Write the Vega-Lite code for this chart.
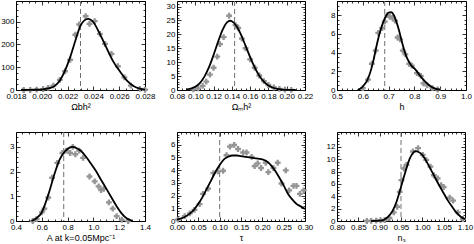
{
"$schema": "https://vega.github.io/schema/vega-lite/v6.json",
"background": "white",
"padding": 0,
"bounds": "flush",
"columns": 3,
"spacing": {"row": 42, "column": 32},
"config": {
  "view": {"stroke": "black", "strokeWidth": 1},
  "font": "Liberation Sans",
  "point": {"shape": "cross", "filled": true, "color": "#959595", "size": 34, "opacity": 1},
  "axis": {"labelFont": "Liberation Sans", "labelFontSize": 8, "labelColor": "black", "titleFont": "Liberation Sans", "titleFontSize": 9, "titleFontWeight": "normal", "titleColor": "black", "domain": false, "grid": false, "tickColor": "black", "tickWidth": 0.8, "labelFlush": false, "labelOverlap": false, "labelBound": false, "titlePadding": 2}
},
"concat": [
{
 "width": 129, "height": 89,
 "data": {"values": [
  {"t":"r","x":0.023},
  {"t":"c","x":0.0184,"y":0},{"t":"c","x":0.0190,"y":0.4},{"t":"c","x":0.0195,"y":1},{"t":"c","x":0.0201,"y":3},{"t":"c","x":0.0206,"y":8},{"t":"c","x":0.0210,"y":18},{"t":"c","x":0.0214,"y":42},{"t":"c","x":0.0218,"y":85},{"t":"c","x":0.0222,"y":144},{"t":"c","x":0.0226,"y":216},{"t":"c","x":0.0230,"y":282},{"t":"c","x":0.0233,"y":305},{"t":"c","x":0.0236,"y":312},{"t":"c","x":0.0240,"y":297},{"t":"c","x":0.0245,"y":246},{"t":"c","x":0.0250,"y":187},{"t":"c","x":0.0255,"y":129},{"t":"c","x":0.0261,"y":78},{"t":"c","x":0.0266,"y":41},{"t":"c","x":0.0271,"y":18},{"t":"c","x":0.0276,"y":6},{"t":"c","x":0.0280,"y":2},
  {"t":"p","x":0.0186,"y":0},{"t":"p","x":0.0191,"y":0},{"t":"p","x":0.0196,"y":1.5},{"t":"p","x":0.0201,"y":4},{"t":"p","x":0.0205,"y":9},{"t":"p","x":0.0209,"y":19},{"t":"p","x":0.0214,"y":44},{"t":"p","x":0.0218,"y":82},{"t":"p","x":0.0222,"y":132},{"t":"p","x":0.0226,"y":242},{"t":"p","x":0.0229,"y":287},{"t":"p","x":0.0234,"y":323},{"t":"p","x":0.0237,"y":290},{"t":"p","x":0.0241,"y":302},{"t":"p","x":0.0245,"y":246},{"t":"p","x":0.0249,"y":202},{"t":"p","x":0.0254,"y":158},{"t":"p","x":0.0259,"y":104},{"t":"p","x":0.0264,"y":55},{"t":"p","x":0.0269,"y":19},{"t":"p","x":0.0276,"y":5},{"t":"p","x":0.0280,"y":1}
 ]},
 "resolve": {"axis": {"x": "independent", "y": "independent"}},
 "layer": [
  {"transform": [{"filter": "datum.t == 'r'"}],
   "mark": {"type": "rule", "color": "#707070", "strokeDash": [5, 3], "strokeWidth": 1},
   "encoding": {"x": {"field": "x", "type": "quantitative", "scale": {"domain": [0.018, 0.028], "nice": false, "zero": false},
     "axis": {"orient": "top", "values": [0.018,0.02,0.022,0.024,0.026,0.028], "labels": false, "tickSize": -4, "title": null}}}},
  {"transform": [{"filter": "datum.t == 'p'"}],
   "mark": {"type": "point"},
   "encoding": {
     "x": {"field": "x", "type": "quantitative", "scale": {"domain": [0.018, 0.028], "nice": false, "zero": false}, "axis": {"orient": "bottom", "values": [0.0185,0.019,0.0195,0.0205,0.021,0.0215,0.0225,0.023,0.0235,0.0245,0.025,0.0255,0.0265,0.027,0.0275], "labels": false, "tickSize": -2, "title": null}},
     "y": {"field": "y", "type": "quantitative", "scale": {"domain": [0, 390], "nice": false, "zero": false}, "axis": {"orient": "right", "values": [0,100,200,300], "labels": false, "tickSize": -4, "title": null}}}},
  {"transform": [{"filter": "datum.t == 'c'"}],
   "mark": {"type": "line", "color": "black", "strokeWidth": 1.8, "interpolate": "monotone"},
   "encoding": {
     "x": {"field": "x", "type": "quantitative", "scale": {"domain": [0.018, 0.028], "nice": false, "zero": false}, "axis": {"orient": "bottom", "values": [0.018,0.02,0.022,0.024,0.026,0.028], "format": ".3f", "tickSize": -4, "labelPadding": 6, "title": "Ωbh²"}},
     "y": {"field": "y", "type": "quantitative", "scale": {"domain": [0, 390], "nice": false, "zero": false}, "axis": {"orient": "left", "values": [0,100,200,300], "format": "d", "tickSize": -4, "labelPadding": 6, "title": null}}}},
  {"transform": [{"filter": "datum.t == 'c'"}],
   "mark": {"type": "line", "strokeOpacity": 0},
   "encoding": {
     "x": {"field": "x", "type": "quantitative", "scale": {"domain": [0.018, 0.028], "nice": false, "zero": false}, "axis": {"orient": "top", "values": [0.0185,0.019,0.0195,0.0205,0.021,0.0215,0.0225,0.023,0.0235,0.0245,0.025,0.0255,0.0265,0.027,0.0275], "labels": false, "tickSize": -2, "title": null}},
     "y": {"field": "y", "type": "quantitative", "scale": {"domain": [0, 390], "nice": false, "zero": false}, "axis": {"orient": "left", "values": [25,50,75,125,150,175,225,250,275,325,350,375], "labels": false, "tickSize": -2, "title": null}}}},
  {"transform": [{"filter": "datum.t == 'c'"}],
   "mark": {"type": "line", "strokeOpacity": 0},
   "encoding": {
     "x": {"field": "x", "type": "quantitative", "scale": {"domain": [0.018, 0.028], "nice": false, "zero": false}, "axis": null},
     "y": {"field": "y", "type": "quantitative", "scale": {"domain": [0, 390], "nice": false, "zero": false}, "axis": {"orient": "right", "values": [25,50,75,125,150,175,225,250,275,325,350,375], "labels": false, "tickSize": -2, "title": null}}}}
 ]
},
{
 "width": 128, "height": 89,
 "data": {"values": [
  {"t":"r","x":0.143},
  {"t":"c","x":0.090,"y":0.2},{"t":"c","x":0.095,"y":0.5},{"t":"c","x":0.100,"y":1.2},{"t":"c","x":0.105,"y":2.5},{"t":"c","x":0.110,"y":4.8},{"t":"c","x":0.115,"y":8.2},{"t":"c","x":0.120,"y":12.6},{"t":"c","x":0.125,"y":17.4},{"t":"c","x":0.130,"y":21.7},{"t":"c","x":0.135,"y":24.4},{"t":"c","x":0.138,"y":24.9},{"t":"c","x":0.140,"y":24.7},{"t":"c","x":0.145,"y":23.0},{"t":"c","x":0.150,"y":19.9},{"t":"c","x":0.155,"y":15.9},{"t":"c","x":0.160,"y":11.8},{"t":"c","x":0.165,"y":8.1},{"t":"c","x":0.170,"y":5.1},{"t":"c","x":0.175,"y":3.0},{"t":"c","x":0.180,"y":1.6},{"t":"c","x":0.185,"y":0.8},{"t":"c","x":0.190,"y":0.4},{"t":"c","x":0.195,"y":0.16},{"t":"c","x":0.200,"y":0.05},{"t":"c","x":0.210,"y":0},
  {"t":"p","x":0.098,"y":0.2},{"t":"p","x":0.103,"y":0.6},{"t":"p","x":0.108,"y":1.5},{"t":"p","x":0.112,"y":3},{"t":"p","x":0.116,"y":5.5},{"t":"p","x":0.120,"y":8},{"t":"p","x":0.124,"y":12},{"t":"p","x":0.127,"y":16.5},{"t":"p","x":0.131,"y":19},{"t":"p","x":0.137,"y":26.7},{"t":"p","x":0.144,"y":23.3},{"t":"p","x":0.147,"y":22.3},{"t":"p","x":0.151,"y":18.5},{"t":"p","x":0.155,"y":15},{"t":"p","x":0.160,"y":11},{"t":"p","x":0.165,"y":8},{"t":"p","x":0.170,"y":5.2},{"t":"p","x":0.175,"y":3.2},{"t":"p","x":0.180,"y":1.8},{"t":"p","x":0.186,"y":0.9},{"t":"p","x":0.192,"y":0.4},{"t":"p","x":0.198,"y":0.15},{"t":"p","x":0.205,"y":0.05}
 ]},
 "resolve": {"axis": {"x": "independent", "y": "independent"}},
 "layer": [
  {"transform": [{"filter": "datum.t == 'r'"}],
   "mark": {"type": "rule", "color": "#707070", "strokeDash": [5, 3], "strokeWidth": 1},
   "encoding": {"x": {"field": "x", "type": "quantitative", "scale": {"domain": [0.08, 0.22], "nice": false, "zero": false},
     "axis": {"orient": "top", "values": [0.08,0.1,0.12,0.14,0.16,0.18,0.2,0.22], "labels": false, "tickSize": -4, "title": null}}}},
  {"transform": [{"filter": "datum.t == 'p'"}],
   "mark": {"type": "point"},
   "encoding": {
     "x": {"field": "x", "type": "quantitative", "scale": {"domain": [0.08, 0.22], "nice": false, "zero": false}, "axis": {"orient": "bottom", "values": [0.085,0.09,0.095,0.105,0.11,0.115,0.125,0.13,0.135,0.145,0.15,0.155,0.165,0.17,0.175,0.185,0.19,0.195,0.205,0.21,0.215], "labels": false, "tickSize": -2, "title": null}},
     "y": {"field": "y", "type": "quantitative", "scale": {"domain": [0, 32], "nice": false, "zero": false}, "axis": {"orient": "right", "values": [0,5,10,15,20,25,30], "labels": false, "tickSize": -4, "title": null}}}},
  {"transform": [{"filter": "datum.t == 'c'"}],
   "mark": {"type": "line", "color": "black", "strokeWidth": 1.8, "interpolate": "monotone"},
   "encoding": {
     "x": {"field": "x", "type": "quantitative", "scale": {"domain": [0.08, 0.22], "nice": false, "zero": false}, "axis": {"orient": "bottom", "values": [0.08,0.1,0.12,0.14,0.16,0.18,0.2,0.22], "format": ".2f", "tickSize": -4, "labelPadding": 6, "title": "Ωₘh²"}},
     "y": {"field": "y", "type": "quantitative", "scale": {"domain": [0, 32], "nice": false, "zero": false}, "axis": {"orient": "left", "values": [0,5,10,15,20,25,30], "format": "d", "tickSize": -4, "labelPadding": 6, "title": null}}}},
  {"transform": [{"filter": "datum.t == 'c'"}],
   "mark": {"type": "line", "strokeOpacity": 0},
   "encoding": {
     "x": {"field": "x", "type": "quantitative", "scale": {"domain": [0.08, 0.22], "nice": false, "zero": false}, "axis": {"orient": "top", "values": [0.085,0.09,0.095,0.105,0.11,0.115,0.125,0.13,0.135,0.145,0.15,0.155,0.165,0.17,0.175,0.185,0.19,0.195,0.205,0.21,0.215], "labels": false, "tickSize": -2, "title": null}},
     "y": {"field": "y", "type": "quantitative", "scale": {"domain": [0, 32], "nice": false, "zero": false}, "axis": {"orient": "left", "values": [1,2,3,4,6,7,8,9,11,12,13,14,16,17,18,19,21,22,23,24,26,27,28,29,31], "labels": false, "tickSize": -2, "title": null}}}},
  {"transform": [{"filter": "datum.t == 'c'"}],
   "mark": {"type": "line", "strokeOpacity": 0},
   "encoding": {
     "x": {"field": "x", "type": "quantitative", "scale": {"domain": [0.08, 0.22], "nice": false, "zero": false}, "axis": null},
     "y": {"field": "y", "type": "quantitative", "scale": {"domain": [0, 32], "nice": false, "zero": false}, "axis": {"orient": "right", "values": [1,2,3,4,6,7,8,9,11,12,13,14,16,17,18,19,21,22,23,24,26,27,28,29,31], "labels": false, "tickSize": -2, "title": null}}}}
 ]
},
{
 "width": 129, "height": 89,
 "data": {"values": [
  {"t":"r","x":0.685},
  {"t":"c","x":0.58,"y":0},{"t":"c","x":0.60,"y":0.35},{"t":"c","x":0.62,"y":1.2},{"t":"c","x":0.64,"y":3.0},{"t":"c","x":0.65,"y":4.3},{"t":"c","x":0.66,"y":5.5},{"t":"c","x":0.67,"y":6.5},{"t":"c","x":0.68,"y":7.3},{"t":"c","x":0.69,"y":7.9},{"t":"c","x":0.70,"y":8.25},{"t":"c","x":0.71,"y":8.3},{"t":"c","x":0.72,"y":8.0},{"t":"c","x":0.73,"y":7.3},{"t":"c","x":0.74,"y":6.4},{"t":"c","x":0.75,"y":5.3},{"t":"c","x":0.76,"y":4.3},{"t":"c","x":0.77,"y":3.5},{"t":"c","x":0.78,"y":2.95},{"t":"c","x":0.79,"y":2.55},{"t":"c","x":0.80,"y":2.3},{"t":"c","x":0.82,"y":1.6},{"t":"c","x":0.84,"y":0.95},{"t":"c","x":0.86,"y":0.45},{"t":"c","x":0.88,"y":0.15},{"t":"c","x":0.90,"y":0.03},
  {"t":"p","x":0.60,"y":0.2},{"t":"p","x":0.62,"y":1.1},{"t":"p","x":0.635,"y":2.8},{"t":"p","x":0.65,"y":4.2},{"t":"p","x":0.66,"y":6.1},{"t":"p","x":0.675,"y":6.6},{"t":"p","x":0.685,"y":7.3},{"t":"p","x":0.695,"y":8.0},{"t":"p","x":0.705,"y":7.8},{"t":"p","x":0.715,"y":7.7},{"t":"p","x":0.725,"y":7.4},{"t":"p","x":0.735,"y":5.6},{"t":"p","x":0.745,"y":5.4},{"t":"p","x":0.755,"y":4.2},{"t":"p","x":0.765,"y":3.8},{"t":"p","x":0.78,"y":2.8},{"t":"p","x":0.79,"y":2.6},{"t":"p","x":0.81,"y":1.8},{"t":"p","x":0.825,"y":1.5},{"t":"p","x":0.835,"y":0.7},{"t":"p","x":0.85,"y":0.5},{"t":"p","x":0.87,"y":0.2},{"t":"p","x":0.89,"y":0.05}
 ]},
 "resolve": {"axis": {"x": "independent", "y": "independent"}},
 "layer": [
  {"transform": [{"filter": "datum.t == 'r'"}],
   "mark": {"type": "rule", "color": "#707070", "strokeDash": [5, 3], "strokeWidth": 1},
   "encoding": {"x": {"field": "x", "type": "quantitative", "scale": {"domain": [0.5, 1.0], "nice": false, "zero": false},
     "axis": {"orient": "top", "values": [0.5,0.6,0.7,0.8,0.9,1.0], "labels": false, "tickSize": -4, "title": null}}}},
  {"transform": [{"filter": "datum.t == 'p'"}],
   "mark": {"type": "point"},
   "encoding": {
     "x": {"field": "x", "type": "quantitative", "scale": {"domain": [0.5, 1.0], "nice": false, "zero": false}, "axis": {"orient": "bottom", "values": [0.52,0.54,0.56,0.58,0.62,0.64,0.66,0.68,0.72,0.74,0.76,0.78,0.82,0.84,0.86,0.88,0.92,0.94,0.96,0.98], "labels": false, "tickSize": -2, "title": null}},
     "y": {"field": "y", "type": "quantitative", "scale": {"domain": [0, 9.5], "nice": false, "zero": false}, "axis": {"orient": "right", "values": [0,2,4,6,8], "labels": false, "tickSize": -4, "title": null}}}},
  {"transform": [{"filter": "datum.t == 'c'"}],
   "mark": {"type": "line", "color": "black", "strokeWidth": 1.8, "interpolate": "monotone"},
   "encoding": {
     "x": {"field": "x", "type": "quantitative", "scale": {"domain": [0.5, 1.0], "nice": false, "zero": false}, "axis": {"orient": "bottom", "values": [0.5,0.6,0.7,0.8,0.9,1.0], "format": ".1f", "tickSize": -4, "labelPadding": 6, "title": "h"}},
     "y": {"field": "y", "type": "quantitative", "scale": {"domain": [0, 9.5], "nice": false, "zero": false}, "axis": {"orient": "left", "values": [0,2,4,6,8], "format": "d", "tickSize": -4, "labelPadding": 6, "title": null}}}},
  {"transform": [{"filter": "datum.t == 'c'"}],
   "mark": {"type": "line", "strokeOpacity": 0},
   "encoding": {
     "x": {"field": "x", "type": "quantitative", "scale": {"domain": [0.5, 1.0], "nice": false, "zero": false}, "axis": {"orient": "top", "values": [0.52,0.54,0.56,0.58,0.62,0.64,0.66,0.68,0.72,0.74,0.76,0.78,0.82,0.84,0.86,0.88,0.92,0.94,0.96,0.98], "labels": false, "tickSize": -2, "title": null}},
     "y": {"field": "y", "type": "quantitative", "scale": {"domain": [0, 9.5], "nice": false, "zero": false}, "axis": {"orient": "left", "values": [0.5,1,1.5,2.5,3,3.5,4.5,5,5.5,6.5,7,7.5,8.5,9], "labels": false, "tickSize": -2, "title": null}}}},
  {"transform": [{"filter": "datum.t == 'c'"}],
   "mark": {"type": "line", "strokeOpacity": 0},
   "encoding": {
     "x": {"field": "x", "type": "quantitative", "scale": {"domain": [0.5, 1.0], "nice": false, "zero": false}, "axis": null},
     "y": {"field": "y", "type": "quantitative", "scale": {"domain": [0, 9.5], "nice": false, "zero": false}, "axis": {"orient": "right", "values": [0.5,1,1.5,2.5,3,3.5,4.5,5,5.5,6.5,7,7.5,8.5,9], "labels": false, "tickSize": -2, "title": null}}}}
 ]
},
{
 "width": 129, "height": 89,
 "data": {"values": [
  {"t":"r","x":0.77},
  {"t":"c","x":0.52,"y":0},{"t":"c","x":0.56,"y":0.12},{"t":"c","x":0.60,"y":0.35},{"t":"c","x":0.64,"y":0.9},{"t":"c","x":0.66,"y":1.22},{"t":"c","x":0.70,"y":1.93},{"t":"c","x":0.74,"y":2.5},{"t":"c","x":0.78,"y":2.82},{"t":"c","x":0.82,"y":2.98},{"t":"c","x":0.84,"y":3.0},{"t":"c","x":0.86,"y":2.97},{"t":"c","x":0.90,"y":2.85},{"t":"c","x":0.94,"y":2.62},{"t":"c","x":0.98,"y":2.33},{"t":"c","x":1.02,"y":2.02},{"t":"c","x":1.06,"y":1.66},{"t":"c","x":1.10,"y":1.31},{"t":"c","x":1.14,"y":0.95},{"t":"c","x":1.18,"y":0.6},{"t":"c","x":1.22,"y":0.3},{"t":"c","x":1.26,"y":0.1},{"t":"c","x":1.30,"y":0.01},
  {"t":"p","x":0.53,"y":0},{"t":"p","x":0.56,"y":0.08},{"t":"p","x":0.60,"y":0.35},{"t":"p","x":0.62,"y":0.5},{"t":"p","x":0.65,"y":0.95},{"t":"p","x":0.68,"y":1.75},{"t":"p","x":0.72,"y":2.35},{"t":"p","x":0.76,"y":2.75},{"t":"p","x":0.79,"y":2.85},{"t":"p","x":0.82,"y":2.75},{"t":"p","x":0.84,"y":3.0},{"t":"p","x":0.86,"y":2.7},{"t":"p","x":0.89,"y":2.85},{"t":"p","x":0.92,"y":2.55},{"t":"p","x":0.97,"y":1.8},{"t":"p","x":1.01,"y":1.6},{"t":"p","x":1.04,"y":1.4},{"t":"p","x":1.06,"y":1.25},{"t":"p","x":1.08,"y":1.3},{"t":"p","x":1.12,"y":0.75},{"t":"p","x":1.15,"y":0.5},{"t":"p","x":1.18,"y":0.2},{"t":"p","x":1.22,"y":0.05},{"t":"p","x":1.27,"y":0}
 ]},
 "resolve": {"axis": {"x": "independent", "y": "independent"}},
 "layer": [
  {"transform": [{"filter": "datum.t == 'r'"}],
   "mark": {"type": "rule", "color": "#707070", "strokeDash": [5, 3], "strokeWidth": 1},
   "encoding": {"x": {"field": "x", "type": "quantitative", "scale": {"domain": [0.4, 1.4], "nice": false, "zero": false},
     "axis": {"orient": "top", "values": [0.4,0.6,0.8,1.0,1.2,1.4], "labels": false, "tickSize": -4, "title": null}}}},
  {"transform": [{"filter": "datum.t == 'p'"}],
   "mark": {"type": "point"},
   "encoding": {
     "x": {"field": "x", "type": "quantitative", "scale": {"domain": [0.4, 1.4], "nice": false, "zero": false}, "axis": {"orient": "bottom", "values": [0.45,0.5,0.55,0.65,0.7,0.75,0.85,0.9,0.95,1.05,1.1,1.15,1.25,1.3,1.35], "labels": false, "tickSize": -2, "title": null}},
     "y": {"field": "y", "type": "quantitative", "scale": {"domain": [0, 3.6], "nice": false, "zero": false}, "axis": {"orient": "right", "values": [0,1,2,3], "labels": false, "tickSize": -4, "title": null}}}},
  {"transform": [{"filter": "datum.t == 'c'"}],
   "mark": {"type": "line", "color": "black", "strokeWidth": 1.8, "interpolate": "monotone"},
   "encoding": {
     "x": {"field": "x", "type": "quantitative", "scale": {"domain": [0.4, 1.4], "nice": false, "zero": false}, "axis": {"orient": "bottom", "values": [0.4,0.6,0.8,1.0,1.2,1.4], "format": ".1f", "tickSize": -4, "labelPadding": 6, "title": "A at k=0.05Mpc⁻¹"}},
     "y": {"field": "y", "type": "quantitative", "scale": {"domain": [0, 3.6], "nice": false, "zero": false}, "axis": {"orient": "left", "values": [0,1,2,3], "format": "d", "tickSize": -4, "labelPadding": 6, "title": null}}}},
  {"transform": [{"filter": "datum.t == 'c'"}],
   "mark": {"type": "line", "strokeOpacity": 0},
   "encoding": {
     "x": {"field": "x", "type": "quantitative", "scale": {"domain": [0.4, 1.4], "nice": false, "zero": false}, "axis": {"orient": "top", "values": [0.45,0.5,0.55,0.65,0.7,0.75,0.85,0.9,0.95,1.05,1.1,1.15,1.25,1.3,1.35], "labels": false, "tickSize": -2, "title": null}},
     "y": {"field": "y", "type": "quantitative", "scale": {"domain": [0, 3.6], "nice": false, "zero": false}, "axis": {"orient": "left", "values": [0.2,0.4,0.6,0.8,1.2,1.4,1.6,1.8,2.2,2.4,2.6,2.8,3.2,3.4], "labels": false, "tickSize": -2, "title": null}}}},
  {"transform": [{"filter": "datum.t == 'c'"}],
   "mark": {"type": "line", "strokeOpacity": 0},
   "encoding": {
     "x": {"field": "x", "type": "quantitative", "scale": {"domain": [0.4, 1.4], "nice": false, "zero": false}, "axis": null},
     "y": {"field": "y", "type": "quantitative", "scale": {"domain": [0, 3.6], "nice": false, "zero": false}, "axis": {"orient": "right", "values": [0.2,0.4,0.6,0.8,1.2,1.4,1.6,1.8,2.2,2.4,2.6,2.8,3.2,3.4], "labels": false, "tickSize": -2, "title": null}}}}
 ]
},
{
 "width": 128, "height": 89,
 "data": {"values": [
  {"t":"r","x":0.10},
  {"t":"c","x":0.0,"y":0.1},{"t":"c","x":0.01,"y":0.2},{"t":"c","x":0.02,"y":0.35},{"t":"c","x":0.03,"y":0.58},{"t":"c","x":0.04,"y":0.9},{"t":"c","x":0.05,"y":1.35},{"t":"c","x":0.06,"y":1.9},{"t":"c","x":0.07,"y":2.55},{"t":"c","x":0.08,"y":3.2},{"t":"c","x":0.09,"y":3.85},{"t":"c","x":0.10,"y":4.4},{"t":"c","x":0.11,"y":4.85},{"t":"c","x":0.12,"y":5.05},{"t":"c","x":0.13,"y":5.15},{"t":"c","x":0.14,"y":5.15},{"t":"c","x":0.15,"y":5.1},{"t":"c","x":0.16,"y":5.05},{"t":"c","x":0.17,"y":5.0},{"t":"c","x":0.18,"y":4.95},{"t":"c","x":0.19,"y":4.9},{"t":"c","x":0.20,"y":4.85},{"t":"c","x":0.21,"y":4.7},{"t":"c","x":0.22,"y":4.4},{"t":"c","x":0.23,"y":3.95},{"t":"c","x":0.24,"y":3.4},{"t":"c","x":0.25,"y":2.8},{"t":"c","x":0.26,"y":2.15},{"t":"c","x":0.27,"y":1.7},{"t":"c","x":0.28,"y":1.35},{"t":"c","x":0.29,"y":1.15},{"t":"c","x":0.30,"y":0.95},
  {"t":"p","x":0.002,"y":0.11},{"t":"p","x":0.018,"y":0.38},{"t":"p","x":0.030,"y":0.6},{"t":"p","x":0.041,"y":0.87},{"t":"p","x":0.053,"y":1.33},{"t":"p","x":0.061,"y":2.14},{"t":"p","x":0.073,"y":2.55},{"t":"p","x":0.085,"y":3.77},{"t":"p","x":0.096,"y":3.9},{"t":"p","x":0.108,"y":3.95},{"t":"p","x":0.116,"y":5.17},{"t":"p","x":0.124,"y":5.85},{"t":"p","x":0.134,"y":5.99},{"t":"p","x":0.143,"y":5.66},{"t":"p","x":0.155,"y":5.39},{"t":"p","x":0.163,"y":5.39},{"t":"p","x":0.175,"y":5.04},{"t":"p","x":0.182,"y":4.31},{"t":"p","x":0.189,"y":4.53},{"t":"p","x":0.197,"y":4.17},{"t":"p","x":0.208,"y":4.58},{"t":"p","x":0.214,"y":3.85},{"t":"p","x":0.226,"y":4.17},{"t":"p","x":0.236,"y":4.58},{"t":"p","x":0.245,"y":2.95},{"t":"p","x":0.255,"y":3.98},{"t":"p","x":0.263,"y":2.41},{"t":"p","x":0.273,"y":2.76},{"t":"p","x":0.280,"y":2.76},{"t":"p","x":0.288,"y":2.14},{"t":"p","x":0.297,"y":2.41}
 ]},
 "resolve": {"axis": {"x": "independent", "y": "independent"}},
 "layer": [
  {"transform": [{"filter": "datum.t == 'r'"}],
   "mark": {"type": "rule", "color": "#707070", "strokeDash": [5, 3], "strokeWidth": 1},
   "encoding": {"x": {"field": "x", "type": "quantitative", "scale": {"domain": [0, 0.3], "nice": false, "zero": false},
     "axis": {"orient": "top", "values": [0,0.05,0.1,0.15,0.2,0.25,0.3], "labels": false, "tickSize": -4, "title": null}}}},
  {"transform": [{"filter": "datum.t == 'p'"}],
   "mark": {"type": "point"},
   "encoding": {
     "x": {"field": "x", "type": "quantitative", "scale": {"domain": [0, 0.3], "nice": false, "zero": false}, "axis": {"orient": "bottom", "values": [0.01,0.02,0.03,0.04,0.06,0.07,0.08,0.09,0.11,0.12,0.13,0.14,0.16,0.17,0.18,0.19,0.21,0.22,0.23,0.24,0.26,0.27,0.28,0.29], "labels": false, "tickSize": -2, "title": null}},
     "y": {"field": "y", "type": "quantitative", "scale": {"domain": [0, 7], "nice": false, "zero": false}, "axis": {"orient": "right", "values": [0,1,2,3,4,5,6], "labels": false, "tickSize": -4, "title": null}}}},
  {"transform": [{"filter": "datum.t == 'c'"}],
   "mark": {"type": "line", "color": "black", "strokeWidth": 1.8, "interpolate": "monotone"},
   "encoding": {
     "x": {"field": "x", "type": "quantitative", "scale": {"domain": [0, 0.3], "nice": false, "zero": false}, "axis": {"orient": "bottom", "values": [0,0.05,0.1,0.15,0.2,0.25,0.3], "format": ".2f", "tickSize": -4, "labelPadding": 6, "title": "τ"}},
     "y": {"field": "y", "type": "quantitative", "scale": {"domain": [0, 7], "nice": false, "zero": false}, "axis": {"orient": "left", "values": [0,1,2,3,4,5,6], "format": "d", "tickSize": -4, "labelPadding": 6, "title": null}}}},
  {"transform": [{"filter": "datum.t == 'c'"}],
   "mark": {"type": "line", "strokeOpacity": 0},
   "encoding": {
     "x": {"field": "x", "type": "quantitative", "scale": {"domain": [0, 0.3], "nice": false, "zero": false}, "axis": {"orient": "top", "values": [0.01,0.02,0.03,0.04,0.06,0.07,0.08,0.09,0.11,0.12,0.13,0.14,0.16,0.17,0.18,0.19,0.21,0.22,0.23,0.24,0.26,0.27,0.28,0.29], "labels": false, "tickSize": -2, "title": null}},
     "y": {"field": "y", "type": "quantitative", "scale": {"domain": [0, 7], "nice": false, "zero": false}, "axis": {"orient": "left", "values": [0.2,0.4,0.6,0.8,1.2,1.4,1.6,1.8,2.2,2.4,2.6,2.8,3.2,3.4,3.6,3.8,4.2,4.4,4.6,4.8,5.2,5.4,5.6,5.8,6.2,6.4,6.6,6.8], "labels": false, "tickSize": -2, "title": null}}}},
  {"transform": [{"filter": "datum.t == 'c'"}],
   "mark": {"type": "line", "strokeOpacity": 0},
   "encoding": {
     "x": {"field": "x", "type": "quantitative", "scale": {"domain": [0, 0.3], "nice": false, "zero": false}, "axis": null},
     "y": {"field": "y", "type": "quantitative", "scale": {"domain": [0, 7], "nice": false, "zero": false}, "axis": {"orient": "right", "values": [0.2,0.4,0.6,0.8,1.2,1.4,1.6,1.8,2.2,2.4,2.6,2.8,3.2,3.4,3.6,3.8,4.2,4.4,4.6,4.8,5.2,5.4,5.6,5.8,6.2,6.4,6.6,6.8], "labels": false, "tickSize": -2, "title": null}}}}
 ]
},
{
 "width": 128, "height": 89,
 "data": {"values": [
  {"t":"r","x":0.95},
  {"t":"c","x":0.88,"y":0},{"t":"c","x":0.90,"y":0.05},{"t":"c","x":0.91,"y":0.2},{"t":"c","x":0.92,"y":0.7},{"t":"c","x":0.93,"y":1.6},{"t":"c","x":0.94,"y":3.2},{"t":"c","x":0.95,"y":5.5},{"t":"c","x":0.96,"y":7.9},{"t":"c","x":0.97,"y":10.0},{"t":"c","x":0.98,"y":11.15},{"t":"c","x":0.985,"y":11.3},{"t":"c","x":0.99,"y":11.2},{"t":"c","x":1.00,"y":10.7},{"t":"c","x":1.01,"y":9.6},{"t":"c","x":1.02,"y":8.3},{"t":"c","x":1.03,"y":7.0},{"t":"c","x":1.04,"y":5.7},{"t":"c","x":1.05,"y":4.5},{"t":"c","x":1.06,"y":3.3},{"t":"c","x":1.07,"y":2.3},{"t":"c","x":1.08,"y":1.35},{"t":"c","x":1.09,"y":0.7},{"t":"c","x":1.10,"y":0.3},
  {"t":"p","x":0.87,"y":0},{"t":"p","x":0.88,"y":0.02},{"t":"p","x":0.892,"y":0.05},{"t":"p","x":0.902,"y":0.1},{"t":"p","x":0.912,"y":0.16},{"t":"p","x":0.923,"y":0.49},{"t":"p","x":0.933,"y":1.4},{"t":"p","x":0.941,"y":2.3},{"t":"p","x":0.947,"y":4.7},{"t":"p","x":0.951,"y":6.6},{"t":"p","x":0.957,"y":8.5},{"t":"p","x":0.963,"y":9.1},{"t":"p","x":0.978,"y":11.25},{"t":"p","x":0.99,"y":11.8},{"t":"p","x":1.001,"y":10.7},{"t":"p","x":1.009,"y":9.9},{"t":"p","x":1.019,"y":8.8},{"t":"p","x":1.027,"y":7.4},{"t":"p","x":1.036,"y":6.9},{"t":"p","x":1.044,"y":5.8},{"t":"p","x":1.05,"y":5.5},{"t":"p","x":1.064,"y":3.77},{"t":"p","x":1.072,"y":3.3},{"t":"p","x":1.083,"y":1.4},{"t":"p","x":1.095,"y":0.33}
 ]},
 "resolve": {"axis": {"x": "independent", "y": "independent"}},
 "layer": [
  {"transform": [{"filter": "datum.t == 'r'"}],
   "mark": {"type": "rule", "color": "#707070", "strokeDash": [5, 3], "strokeWidth": 1},
   "encoding": {"x": {"field": "x", "type": "quantitative", "scale": {"domain": [0.8, 1.1], "nice": false, "zero": false},
     "axis": {"orient": "top", "values": [0.8,0.85,0.9,0.95,1.0,1.05,1.1], "labels": false, "tickSize": -4, "title": null}}}},
  {"transform": [{"filter": "datum.t == 'p'"}],
   "mark": {"type": "point"},
   "encoding": {
     "x": {"field": "x", "type": "quantitative", "scale": {"domain": [0.8, 1.1], "nice": false, "zero": false}, "axis": {"orient": "bottom", "values": [0.81,0.82,0.83,0.84,0.86,0.87,0.88,0.89,0.91,0.92,0.93,0.94,0.96,0.97,0.98,0.99,1.01,1.02,1.03,1.04,1.06,1.07,1.08,1.09], "labels": false, "tickSize": -2, "title": null}},
     "y": {"field": "y", "type": "quantitative", "scale": {"domain": [0, 14.4], "nice": false, "zero": false}, "axis": {"orient": "right", "values": [0,2,4,6,8,10,12], "labels": false, "tickSize": -4, "title": null}}}},
  {"transform": [{"filter": "datum.t == 'c'"}],
   "mark": {"type": "line", "color": "black", "strokeWidth": 1.8, "interpolate": "monotone"},
   "encoding": {
     "x": {"field": "x", "type": "quantitative", "scale": {"domain": [0.8, 1.1], "nice": false, "zero": false}, "axis": {"orient": "bottom", "values": [0.8,0.85,0.9,0.95,1.0,1.05,1.1], "format": ".2f", "tickSize": -4, "labelPadding": 6, "title": "nₛ"}},
     "y": {"field": "y", "type": "quantitative", "scale": {"domain": [0, 14.4], "nice": false, "zero": false}, "axis": {"orient": "left", "values": [0,2,4,6,8,10,12], "format": "d", "tickSize": -4, "labelPadding": 6, "title": null}}}},
  {"transform": [{"filter": "datum.t == 'c'"}],
   "mark": {"type": "line", "strokeOpacity": 0},
   "encoding": {
     "x": {"field": "x", "type": "quantitative", "scale": {"domain": [0.8, 1.1], "nice": false, "zero": false}, "axis": {"orient": "top", "values": [0.81,0.82,0.83,0.84,0.86,0.87,0.88,0.89,0.91,0.92,0.93,0.94,0.96,0.97,0.98,0.99,1.01,1.02,1.03,1.04,1.06,1.07,1.08,1.09], "labels": false, "tickSize": -2, "title": null}},
     "y": {"field": "y", "type": "quantitative", "scale": {"domain": [0, 14.4], "nice": false, "zero": false}, "axis": {"orient": "left", "values": [0.5,1,1.5,2.5,3,3.5,4.5,5,5.5,6.5,7,7.5,8.5,9,9.5,10.5,11,11.5,12.5,13,13.5,14], "labels": false, "tickSize": -2, "title": null}}}},
  {"transform": [{"filter": "datum.t == 'c'"}],
   "mark": {"type": "line", "strokeOpacity": 0},
   "encoding": {
     "x": {"field": "x", "type": "quantitative", "scale": {"domain": [0.8, 1.1], "nice": false, "zero": false}, "axis": null},
     "y": {"field": "y", "type": "quantitative", "scale": {"domain": [0, 14.4], "nice": false, "zero": false}, "axis": {"orient": "right", "values": [0.5,1,1.5,2.5,3,3.5,4.5,5,5.5,6.5,7,7.5,8.5,9,9.5,10.5,11,11.5,12.5,13,13.5,14], "labels": false, "tickSize": -2, "title": null}}}}
 ]
}
]
}
